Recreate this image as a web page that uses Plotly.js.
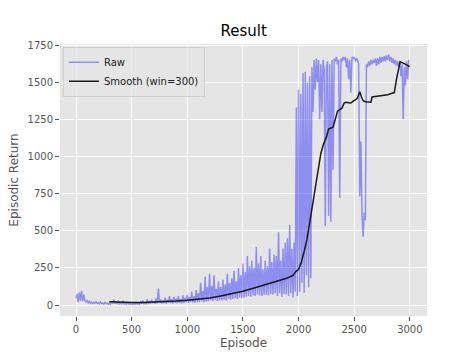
<!DOCTYPE html>
<html>
<head>
<meta charset="utf-8">
<script src="https://cdn.plot.ly/plotly-3.0.1.min.js"></script>
<style>html,body{margin:0;padding:0;background:#fff;}#chart{width:474px;height:355px;}</style>
</head>
<body>
<div id="chart"></div>
<script>
// Raw episodic return, sampled every 10 episodes (one row per 100 episodes)
const rawStep = 10;
const rawReturns = [
  45, 75, 20, 85, 30, 95, 25, 70, 30, 20,
  30, 15, 25, 12, 20, 10, 18, 12, 22, 10,
  15, 8, 20, 10, 14, 6, 18, 9, 12, 5,
  12, 5, 25, 8, 35, 10, 20, 6, 30, 8,
  15, 5, 28, 8, 12, 4, 20, 7, 10, 5,
  8, 3, 12, 5, 20, 6, 10, 4, 25, 8,
  30, 6, 15, 5, 40, 8, 20, 10, 35, 12,
  25, 8, 45, 10, 110, 15, 40, 10, 30, 12,
  50, 10, 35, 15, 60, 12, 40, 10, 55, 15,
  45, 12, 60, 15, 40, 10, 65, 14, 50, 18,
  70, 15, 55, 20, 90, 18, 60, 15, 100, 20,
  80, 20, 150, 25, 95, 18, 190, 22, 120, 25,
  210, 30, 130, 25, 200, 35, 110, 28, 160, 30,
  120, 30, 170, 35, 140, 30, 210, 40, 150, 35,
  180, 40, 230, 45, 160, 40, 250, 50, 200, 45,
  280, 50, 220, 55, 330, 60, 260, 55, 300, 65,
  250, 60, 390, 70, 280, 65, 330, 60, 240, 70,
  300, 70, 260, 65, 380, 75, 290, 70, 340, 80,
  330, 60, 490, 80, 300, 55, 380, 75, 420, 70,
  450, 60, 540, 80, 380, 50, 420, 90, 1330, 60,
  1450, 90, 1420, 150, 1560, 80, 1570, 200, 1500, 120,
  1540, 180, 1600, 1300, 1650, 1450, 1660, 1500, 1650, 1250,
  1620, 1300, 1650, 1580, 530, 1600, 1640, 600, 1620, 560,
  1650, 910, 1660, 1640, 1670, 1620, 1650, 720, 1660, 1640,
  1670, 1650, 1670, 1600, 1660, 1520, 1650, 1430, 1670, 1660,
  1670, 1640, 1660, 1650, 1620, 730, 1100, 600, 460, 620,
  570, 1620, 1600, 1640, 1610, 1650, 1620, 1650, 1630, 1660,
  1610, 1660, 1620, 1670, 1630, 1670, 1640, 1675, 1640, 1680,
  1650, 1685, 1640, 1670, 1630, 1660, 1620, 1650, 1610, 1640,
  1600, 1640, 1540, 1620, 1250, 1600, 1480, 1640, 1520, 1650
];
const rawEpisodes = rawReturns.map((_, i) => i * rawStep);

// Smoothed curve (win=300)
const smoothEpisodes = [299, 400, 500, 600, 700, 800, 900, 1000, 1100, 1200, 1300, 1400, 1500, 1600, 1700, 1800, 1900, 1950, 1975,
  2000, 2025, 2050, 2075, 2100, 2125, 2150, 2175, 2200, 2225, 2250, 2270, 2290, 2310, 2330, 2350, 2370, 2390, 2410, 2430, 2450,
  2470, 2490, 2510, 2530, 2550, 2565, 2580, 2600, 2620, 2650, 2660, 2700, 2750, 2800, 2840, 2860, 2880, 2900, 2912, 2950, 2999];
const smoothReturns = [22, 18, 17, 17, 19, 22, 27, 32, 38, 47, 60, 75, 92, 115, 138, 160, 182, 200, 225,
  240, 290, 360, 440, 555, 675, 800, 920, 1020, 1085, 1130, 1185, 1192, 1197, 1250, 1305, 1315, 1325, 1360, 1364, 1362,
  1360, 1372, 1380, 1395, 1435, 1400, 1375, 1368, 1366, 1365, 1400, 1404, 1408, 1415, 1425, 1430, 1520, 1600, 1637, 1625, 1605];

const xTicks = [0, 500, 1000, 1500, 2000, 2500, 3000];
const yTicks = [0, 250, 500, 750, 1000, 1250, 1500, 1750];

const traces = [
  {x: rawEpisodes, y: rawReturns, type: 'scatter', mode: 'lines', name: 'Raw',
   line: {color: 'rgba(0,0,255,0.38)', width: 1.5}},
  {x: smoothEpisodes, y: smoothReturns, type: 'scatter', mode: 'lines', name: 'Smooth (win=300)',
   line: {color: '#1a1a1a', width: 1.5}}
];

const axisCommon = {
  showgrid: true, gridcolor: '#ffffff', gridwidth: 1, zeroline: false,
  ticks: 'outside', ticklen: 4, tickcolor: '#555555', tickwidth: 1,
  tickfont: {family: 'DejaVu Sans', size: 10, color: '#555555'},
  showline: false
};

const layout = {
  width: 474, height: 355,
  margin: {l: 60, r: 47, t: 44, b: 39, pad: 0},
  paper_bgcolor: '#ffffff', plot_bgcolor: '#E5E5E5',
  title: {text: 'Result', font: {family: 'DejaVu Sans', size: 15, color: '#000000'}, x: 0.514, xanchor: 'center', y: 0.912, yanchor: 'middle'},
  xaxis: Object.assign({}, axisCommon, {range: [-144, 3154], tickvals: xTicks, ticktext: xTicks.map(String),
    title: {text: 'Episode', font: {family: 'DejaVu Sans', size: 12, color: '#555555'}, standoff: 4}}),
  yaxis: Object.assign({}, axisCommon, {range: [-74, 1757], tickvals: yTicks, ticktext: yTicks.map(String),
    title: {text: 'Episodic Return', font: {family: 'DejaVu Sans', size: 12, color: '#555555'}, standoff: 6}}),
  legend: {x: 0.008, y: 0.99, xanchor: 'left', yanchor: 'top', bgcolor: 'rgba(229,229,229,0.8)',
    bordercolor: '#d0d0d0', borderwidth: 1, font: {family: 'DejaVu Sans', size: 10, color: '#222222'},
    tracegroupgap: 0, itemwidth: 30},
  showlegend: true
};

Plotly.newPlot('chart', traces, layout, {displayModeBar: false, staticPlot: true});
</script>
</body>
</html>
